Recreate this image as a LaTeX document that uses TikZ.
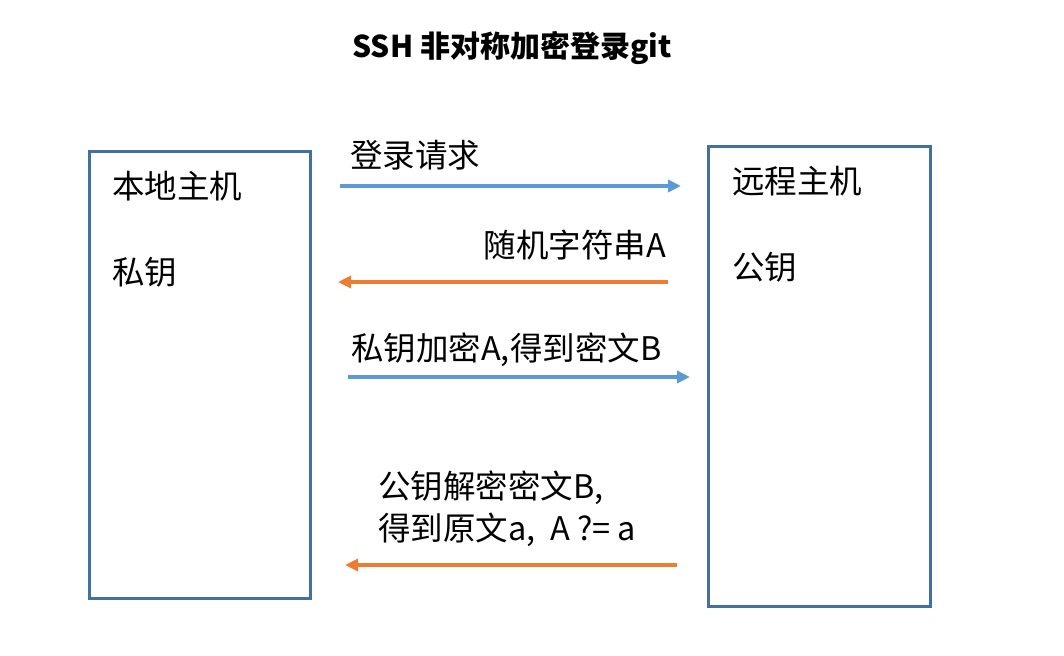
\documentclass[tikz,border=0pt]{standalone}
\usepackage{fontspec}
\setmainfont{Noto Sans CJK SC}
\usetikzlibrary{arrows.meta}
\definecolor{boxc}{RGB}{65,113,156}
\definecolor{blu}{RGB}{91,155,213}
\definecolor{org}{RGB}{237,125,49}
\begin{document}
\begin{tikzpicture}[x=1pt,y=-1pt,
  hostbox/.style={draw=boxc,line width=3pt},
  lbl/.style={font=\fontsize{32.5}{40}\selectfont,inner sep=0},
  barr/.style={draw=blu,line width=3.8pt,-{Triangle[length=13pt,width=12pt]}},
  oarr/.style={draw=org,line width=3.8pt,-{Triangle[length=13pt,width=12pt]}}]
\useasboundingbox[fill=white] (0,0) rectangle (1064,655);
\node[font=\bfseries\fontsize{30}{36}\selectfont] (title) at (512,48) {SSH 非对称加密登录git};
\draw[hostbox] (89,152) rectangle (310,598);
\draw[hostbox] (708,147) rectangle (930,606);
\node[lbl,anchor=west] (l1) at (112,186) {本地主机};
\node[lbl,anchor=west] (l2) at (112,272) {私钥};
\node[lbl,anchor=west] (r1) at (732,181) {远程主机};
\node[lbl,anchor=west] (r2) at (732,267) {公钥};
\coordinate (a1s) at (340,186); \coordinate (a1e) at (681,186);
\coordinate (a2s) at (668,282); \coordinate (a2e) at (338,282);
\coordinate (a3s) at (348,377); \coordinate (a3e) at (690,377);
\coordinate (a4s) at (677,565); \coordinate (a4e) at (345,565);
\draw[barr] (a1s) -- (a1e);
\draw[oarr] (a2s) -- (a2e);
\draw[barr] (a3s) -- (a3e);
\draw[oarr] (a4s) -- (a4e);
\node[lbl,anchor=west] (t1) at (350,155) {登录请求};
\node[lbl,anchor=east] (t2) at (666,245) {随机字符串A};
\node[lbl,anchor=west] (t3) at (351,350) {私钥加密A,得到密文B};
\node[lbl,anchor=west] (t4) at (378,488) {公钥解密密文B,};
\node[lbl,anchor=west] (t5) at (378,530) {得到原文a,\ \ A ?= a};
\end{tikzpicture}
\end{document}
